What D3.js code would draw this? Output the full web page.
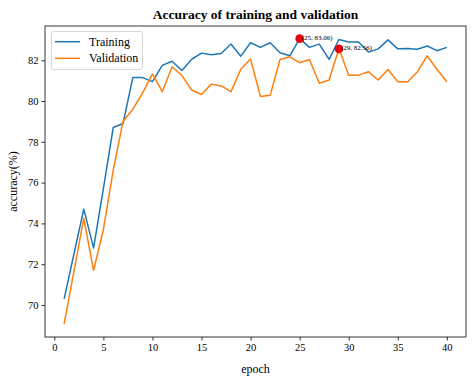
<!DOCTYPE html>
<html><head><meta charset="utf-8">
<script src="https://cdn.jsdelivr.net/npm/d3@7"></script>
<style>body{margin:0;background:#fff}svg{display:block}text{font-family:"Liberation Serif","Times New Roman",serif;fill:#000}</style>
</head><body><svg id="c" width="474" height="383"></svg>
<script>
const epochs = d3.range(1, 41);
const training = [70.3,72.5,74.7,72.8,75.7,78.7,78.9,81.15,81.15,80.95,81.75,81.95,81.5,82.05,82.35,82.27,82.33,82.8,82.2,82.86,82.63,82.86,82.37,82.22,83.06,82.63,82.79,82.04,83.02,82.9,82.9,82.4,82.56,83.0,82.56,82.58,82.54,82.7,82.47,82.63];
const validation = [69.07,71.65,74.25,71.7,73.7,76.6,79.0,79.6,80.4,81.33,80.46,81.68,81.25,80.54,80.32,80.83,80.74,80.46,81.56,82.06,80.22,80.29,82.04,82.17,81.88,82.04,80.87,81.03,82.56,81.27,81.27,81.44,81.03,81.55,80.95,80.95,81.44,82.21,81.55,80.95];
const seriesNames = ["Training","Validation"];
const xTicks = [0,5,10,15,20,25,30,35,40];
const yTicks = [70,72,74,76,78,80,82];
const highlights = [{epoch:25, value:83.06, label:"(25, 83.06)"},{epoch:29, value:82.56, label:"(29, 82.56)"}];

const svg = d3.select("#c");
const L=45,R=466,T=26,B=337;
const x = d3.scaleLinear().domain([-0.95,41.95]).range([L,R]);
const y = d3.scaleLinear().domain([68.43,83.68]).range([B,T]);
const colors = ["#1f77b4","#ff7f0e"];

svg.append("text").attr("x",(L+R)/2).attr("y",18.5).attr("text-anchor","middle")
  .style("font-size","13.5px").style("font-weight","bold").text("Accuracy of training and validation");

const xa = svg.append("g").attr("transform",`translate(0,${B})`)
  .call(d3.axisBottom(x).tickValues(xTicks).tickSize(3.5).tickPadding(3));
const ya = svg.append("g").attr("transform",`translate(${L},0)`)
  .call(d3.axisLeft(y).tickValues(yTicks).tickSize(3.5).tickPadding(3));
[xa,ya].forEach(a=>{a.select(".domain").remove();a.selectAll("line").attr("stroke","#000").attr("stroke-width",0.8);
  a.selectAll("text").style("font-size","10.5px").style("font-family",'"Liberation Serif",serif');});

svg.append("rect").attr("x",L).attr("y",T).attr("width",R-L).attr("height",B-T)
  .attr("fill","none").attr("stroke","#222").attr("stroke-width",0.9);

const line = d3.line().x((d,i)=>x(epochs[i])).y(d=>y(d));
[training,validation].forEach((s,k)=>{
  svg.append("path").datum(s).attr("d",line).attr("fill","none").attr("stroke",colors[k]).attr("stroke-width",1.5).attr("stroke-linejoin","round");
});

highlights.forEach(h=>{
  svg.append("circle").attr("cx",x(h.epoch)).attr("cy",y(h.value)).attr("r",4.3).attr("fill","#e8000b");
  svg.append("text").attr("x",x(h.epoch)+2).attr("y",y(h.value)+1).style("font-size","7px").text(h.label);
});

svg.append("text").attr("x",(L+R)/2).attr("y",373).attr("text-anchor","middle").style("font-size","12px").text("epoch");
svg.append("text").attr("transform",`translate(17,${(T+B)/2}) rotate(-90)`).attr("text-anchor","middle").style("font-size","12px").text("accuracy(%)");

const lg = svg.append("g");
lg.append("rect").attr("x",51.5).attr("y",31.5).attr("width",91).attr("height",38).attr("rx",2.5)
  .attr("fill","#fff").attr("fill-opacity",0.8).attr("stroke","#cccccc").attr("stroke-width",0.8);
seriesNames.forEach((n,k)=>{
  const yy = 41.7 + k*16.6;
  lg.append("line").attr("x1",55).attr("x2",80).attr("y1",yy).attr("y2",yy).attr("stroke",colors[k]).attr("stroke-width",1.5);
  lg.append("text").attr("x",89).attr("y",yy+4).style("font-size","12px").text(n);
});
</script></body></html>
